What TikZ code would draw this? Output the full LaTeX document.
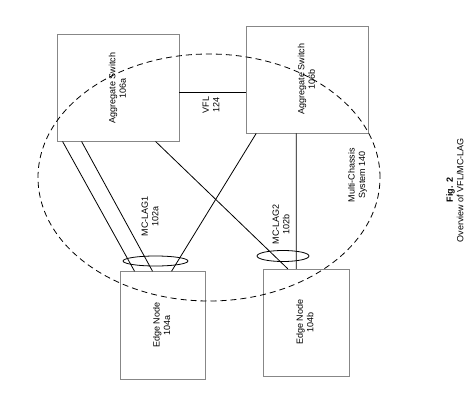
\documentclass[tikz,border=0pt]{standalone}
\usepackage{fontspec}
\setmainfont{Liberation Sans}
\usetikzlibrary{shapes.geometric}
\definecolor{boxgray}{RGB}{135,135,135}
\begin{document}
\begin{tikzpicture}[x=1pt,y=-1pt,
  box/.style={draw=boxgray,line width=0.9pt,inner sep=0pt},
  lbl/.style={rotate=90,align=center,font=\fontsize{9}{10.5}\selectfont,inner sep=0pt},
  link/.style={draw=black,line width=0.8pt},
  lag/.style={draw=black,line width=0.8pt},
  mcs/.style={draw=black,line width=0.8pt,dash pattern=on 6pt off 4pt}]
\useasboundingbox (0,0) rectangle (474,415);
% boxes
\node[box,minimum width=122pt,minimum height=107pt] (a106) at (118,87.5) {};
\node[box,minimum width=121.3pt,minimum height=107pt] (b106) at (307.3,79.5) {};
\node[box,minimum width=85.7pt,minimum height=107.3pt] (e104a) at (162.85,325.35) {};
\node[box,minimum width=86pt,minimum height=107.4pt] (e104b) at (306.3,323) {};
% dashed multi-chassis ellipse
\draw[mcs] (209,177.5) ellipse [x radius=171pt, y radius=123.5pt];
% LAG ellipses
\node[lag,ellipse,minimum width=65pt,minimum height=10pt,inner sep=0pt] (lag1) at (155.5,261) {};
\node[lag,ellipse,minimum width=52pt,minimum height=11pt,inner sep=0pt] (lag2) at (283,256) {};
% links
\draw[link] ([yshift=-5.2pt]a106.east) coordinate (vfla) -- (vfla -| b106.west);
\draw[link] ([xshift=6pt]a106.south west) -- ([xshift=15pt]e104a.north west);
\draw[link] ([xshift=25pt]a106.south west) -- ([xshift=33pt]e104a.north west);
\draw[link] ([xshift=99pt]a106.south west) -- ([xshift=25pt]e104b.north west);
\draw[link] ([xshift=10pt]b106.south west) -- ([xshift=52pt]e104a.north west);
\draw[link] ([xshift=50pt]b106.south west) -- ([xshift=33.4pt]e104b.north west);
% texts
\node[lbl] (ta) at (117.5,88) {Aggregate Switch\\106a};
\node[lbl] (tb) at (306.5,79) {Aggregate Switch\\106b};
\node[lbl] (tea) at (161.7,325) {Edge Node\\104a};
\node[lbl] (teb) at (305,322) {Edge Node\\104b};
\node[lbl] (tvfl) at (211,105) {VFL\\124};
\node[lbl] (tl1) at (150,216) {MC-LAG1\\102a};
\node[lbl] (tl2) at (281,224) {MC-LAG2\\102b};
\node[lbl] (tmcs) at (357.5,175) {Multi-Chassis\\System 140};
\node[lbl] (tfig) at (455,190) {\textbf{Fig. 2}\\Overview of VFL/MC-LAG};
\end{tikzpicture}
\end{document}
